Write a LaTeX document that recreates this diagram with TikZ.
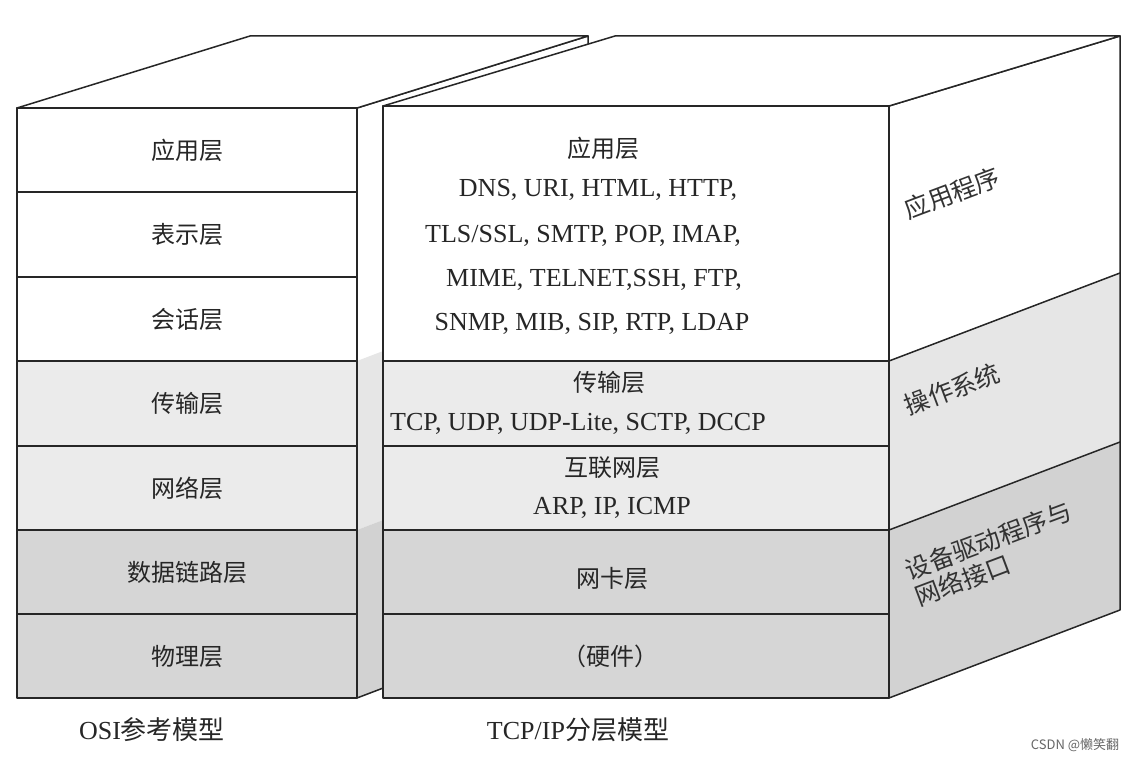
\documentclass[tikz,border=0pt]{standalone}
\usepackage{fontspec}
\setmainfont{Liberation Serif}
\newfontfamily\cjk{Noto Sans CJK SC}
\definecolor{lg}{HTML}{EBEBEB}
\definecolor{dg}{HTML}{D6D6D6}
\definecolor{rlg}{HTML}{E6E6E6}
\definecolor{rdg}{HTML}{D2D2D2}
\begin{document}
\begin{tikzpicture}[x=1pt,y=-1pt,
  edge/.style={draw=black!85,line width=1.5pt,line join=round},
  lab/.style={font=\fontsize{24}{28}\selectfont\cjk,text=black!85},
  lat/.style={font=\fontsize{26}{30}\selectfont,text=black!85},
  side/.style={font=\fontsize{25}{28}\selectfont\cjk,text=black!80,rotate=20.6,anchor=west,align=left}]
\useasboundingbox (0,0) rectangle (1136,762);
\fill[white] (0,0) rectangle (1136,762);
% ---- OSI box ----
\fill[white] (357,108) -- (588,36) -- (588,273) -- (357,361) -- cycle;
\fill[rlg] (357,361) -- (588,273) -- (588,442) -- (357,530) -- cycle;
\fill[rdg] (357,530) -- (588,442) -- (588,610) -- (357,698) -- cycle;
\draw[edge] (357,108) -- (588,36) -- (588,610) -- (357,698);
\draw[edge,fill=white] (17,108) -- (250,36) -- (588,36) -- (357,108) -- cycle;
\foreach \a/\b/\c/\t [count=\i] in {108/192/white/应用层,192/277/white/表示层,277/361/white/会话层,361/446/lg/传输层,446/530/lg/网络层,530/614/dg/数据链路层,614/698/dg/物理层}{
  \draw[edge,fill=\c] (17,\a) rectangle (357,\b);
  \node[lab] (osi\i) at (187,{(\a+\b)/2}) {\t};
}
% ---- TCP/IP box ----
\fill[white] (889,106) -- (1120,36) -- (1120,273) -- (889,361) -- cycle;
\fill[rlg] (889,361) -- (1120,273) -- (1120,442) -- (889,530) -- cycle;
\fill[rdg] (889,530) -- (1120,442) -- (1120,610) -- (889,698) -- cycle;
\draw[edge] (889,106) -- (1120,36) -- (1120,610) -- (889,698);
\draw[edge] (889,361) -- (1120,273);
\draw[edge] (889,530) -- (1120,442);
\draw[edge,fill=white] (383,106) -- (615,36) -- (1120,36) -- (889,106) -- cycle;
\draw[edge,fill=white] (383,106) rectangle (889,361);
\draw[edge,fill=lg] (383,361) rectangle (889,446);
\draw[edge,fill=lg] (383,446) rectangle (889,530);
\draw[edge,fill=dg] (383,530) rectangle (889,614);
\draw[edge,fill=dg] (383,614) rectangle (889,698);
\node[lab] (app) at (603,148) {应用层};
\node[lat] (p1) at (598,190) {DNS, URI, HTML, HTTP,};
\node[lat] (p2) at (583,236) {TLS/SSL, SMTP, POP, IMAP,};
\node[lat] (p3) at (594,280) {MIME, TELNET,SSH, FTP,};
\node[lat] (p4) at (592,324) {SNMP, MIB, SIP, RTP, LDAP};
\node[lab] (tr) at (609,382) {传输层};
\node[lat] (p5) at (578,424) {TCP, UDP, UDP-Lite, SCTP, DCCP};
\node[lab] (inet) at (612,468) {互联网层};
\node[lat] (p6) at (612,508) {ARP, IP, ICMP};
\node[lab] (nic) at (612,578) {网卡层};
\node[lab] (hw) at (610,656) {（硬件）};
\node[side] (s1) at (902,212) {应用程序};
\node[side] (s2) at (902,408) {操作系统};
\node[side] (s3) at (908,586) {设备驱动程序与\\网络接口};
\node[lat] (c1) at (152,730) {OSI{\cjk 参考模型}};
\node[lat] (c2) at (578,730) {TCP/IP{\cjk 分层模型}};
\node[font=\fontsize{13}{15}\selectfont\cjk,text=black!60] (wm) at (1075,745) {CSDN @懒笑翻};
\end{tikzpicture}
\end{document}
